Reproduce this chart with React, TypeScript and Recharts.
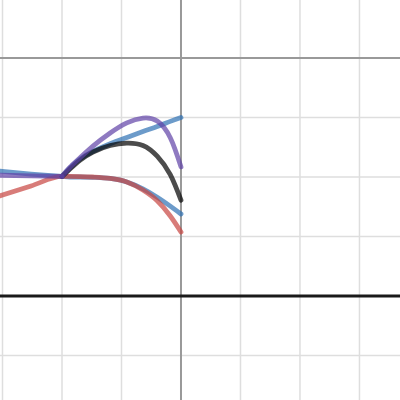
import { LineChart, Line, XAxis, YAxis, ReferenceLine } from "recharts";

// x positions (graph units) where the curves were read
const xs = [-3.05, -2.52, -2, -1.87, -1.7, -1.48, -1.19, -0.91, -0.64, -0.4, -0.18, 0];

// purple is split at x = -2, where it bends sharply
const purpleLeft = [2.03, 2.02, 2.01, null, null, null, null, null, null, null, null, null];
const purpleRight = [null, null, 2.01, 2.16, 2.32, 2.52, 2.74, 2.91, 2.99, 2.94, 2.66, 2.17];
const blueUpper = [null, null, 2.01, 2.15, 2.3, 2.43, 2.56, 2.665, 2.765, 2.85, 2.935, 3.0];
const black = [null, null, 2.01, 2.13, 2.28, 2.42, 2.53, 2.57, 2.53, 2.35, 2.04, 1.61];
const blueLower = [2.1, 2.05, 2.01, 2.0, 2.0, 1.995, 1.975, 1.916, 1.8, 1.66, 1.51, 1.378];
const red = [1.68, 1.85, 2.01, 2.01, 2.008, 2.0, 1.975, 1.916, 1.78, 1.6, 1.345, 1.076];

const gridX = [-3, -2, -1, 1, 2, 3];
const gridY = [-1, 1, 2, 3];

const data = xs.map((x, i) => ({
  x,
  purpleLeft: purpleLeft[i],
  purpleRight: purpleRight[i],
  blueUpper: blueUpper[i],
  black: black[i],
  blueLower: blueLower[i],
  red: red[i],
}));

const lineProps = {
  dot: false,
  strokeWidth: 4.8,
  strokeOpacity: 0.7,
  strokeLinecap: "round" as const,
  strokeLinejoin: "round" as const,
  isAnimationActive: false,
};

export default function App() {
  return (
    <div style={{ position: "absolute", left: 0, top: 0, background: "#fff" }}>
      <LineChart width={400} height={400} data={data} margin={{ top: 0, right: 0, bottom: 0, left: 0 }}>
        <XAxis type="number" dataKey="x" domain={[-3.042, 3.681]} hide allowDataOverflow />
        <YAxis type="number" domain={[-1.748, 4.975]} hide allowDataOverflow />
        {gridX.map((g) => (
          <ReferenceLine key={"gx" + g} x={g} stroke="#dedede" strokeWidth={1.5} />
        ))}
        {gridY.map((g) => (
          <ReferenceLine key={"gy" + g} y={g} stroke="#dedede" strokeWidth={1.5} />
        ))}
        <ReferenceLine x={0} stroke="#999" strokeWidth={2} />
        <ReferenceLine y={4} stroke="#999" strokeWidth={2} />
        <ReferenceLine y={0} stroke="#1a1a1a" strokeWidth={3} />
        <Line {...lineProps} type="monotone" dataKey="blueLower" stroke="#2d70b3" />
        <Line {...lineProps} type="monotone" dataKey="red" stroke="#c74440" />
        <Line {...lineProps} type="natural" dataKey="blueUpper" stroke="#2d70b3" />
        <Line {...lineProps} type="natural" dataKey="black" stroke="#000000" />
        <Line {...lineProps} type="monotone" dataKey="purpleLeft" stroke="#6042a6" />
        <Line {...lineProps} type="natural" dataKey="purpleRight" stroke="#6042a6" />
      </LineChart>
    </div>
  );
}
